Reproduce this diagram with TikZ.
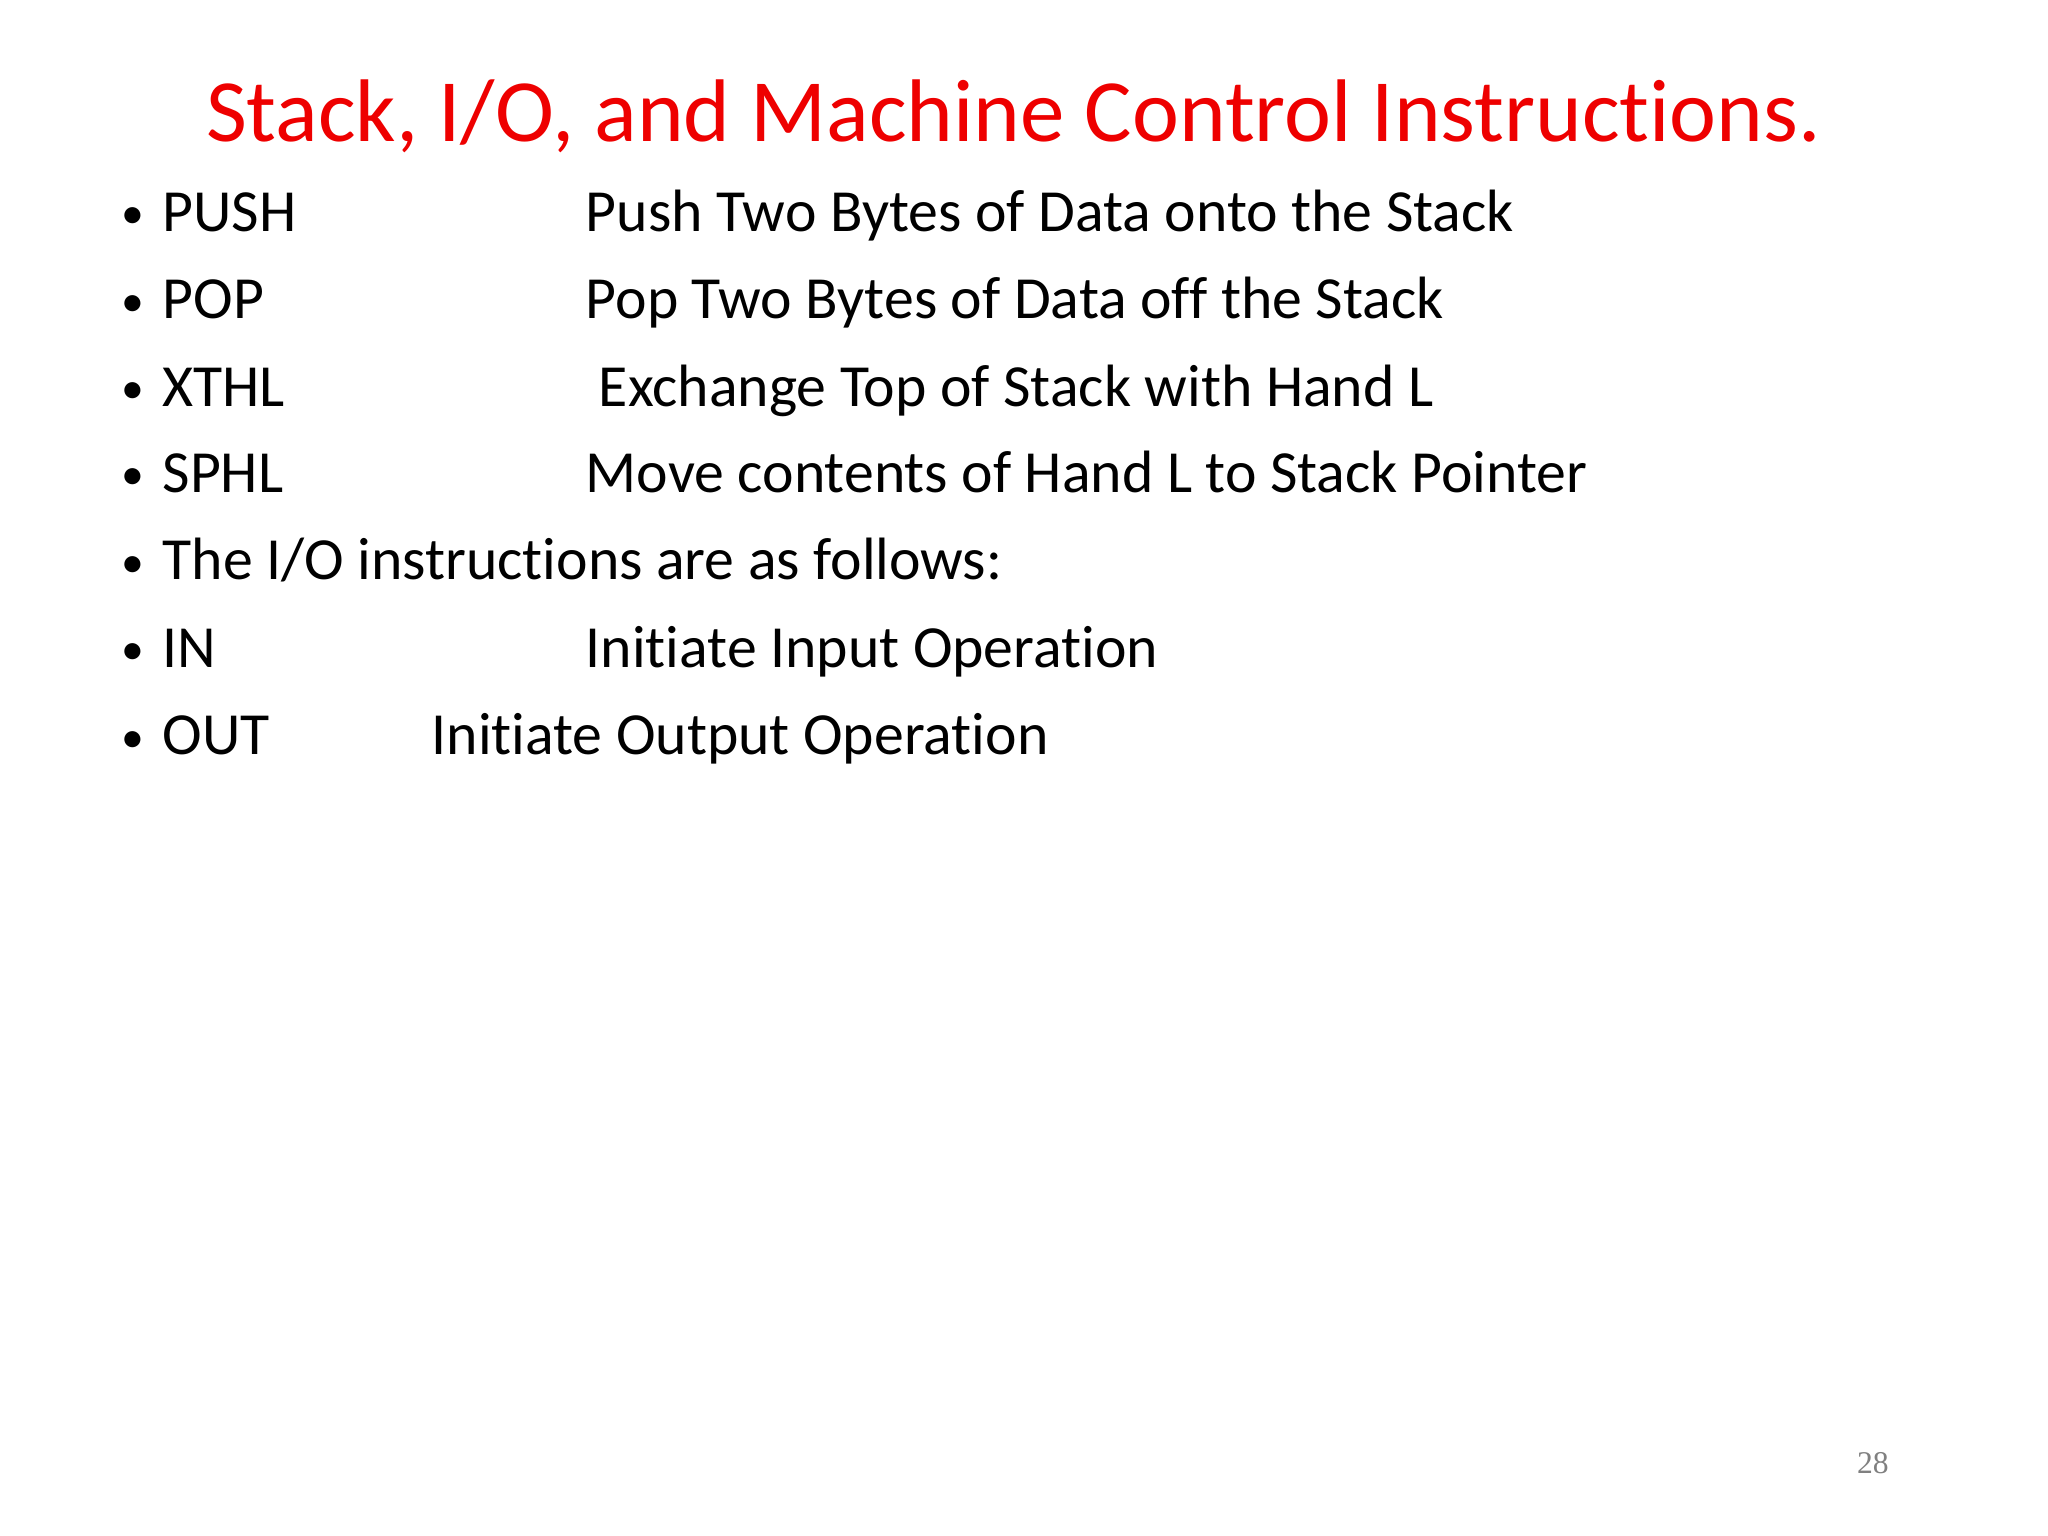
\documentclass[tikz,border=0pt]{standalone}
\usepackage{fontspec}
\setmainfont[Ligatures={NoCommon,NoRare}]{Carlito}
\newfontfamily\numfont{Liberation Serif}
\begin{document}
\begin{tikzpicture}[x=0.013061cm,y=-0.013061cm,
  item/.style={anchor=base west,inner sep=0pt,font=\fontsize{17}{20}\selectfont},
  bul/.style={anchor=base,inner sep=0pt,font=\fontsize{13}{20}\selectfont}]
\useasboundingbox (0,0) rectangle (1568,1176);
\fill[white] (0,0) rectangle (1568,1176);
\node[anchor=base,inner sep=0pt,text={rgb,255:red,238;green,0;blue,0},font=\fontsize{25.3}{30}\selectfont] (title) at (776,108) {Stack, I/O, and Machine Control Instructions.};
\foreach \n/\y/\a/\dx/\b in {1/177/PUSH/448/Push Two Bytes of Data onto the Stack,
  2/244/POP/448/Pop Two Bytes of Data off the Stack,
  3/311/XTHL/458/Exchange Top of Stack with Hand L,
  4/377/SPHL/448/Move contents of Hand L to Stack Pointer,
  6/511/IN/448/Initiate Input Operation,
  7/578/OUT/330/Initiate Output Operation}{
  \node[bul] (b\n) at (102,\y-2) {•};
  \node[item] (k\n) at (124,\y) {\a};
  \node[item] (d\n) at (\dx,\y) {\b};
}
\node[bul] (b5) at (102,442) {•};
\node[item] (k5) at (124,444) {The I/O instructions are as follows:};
\node[anchor=base,inner sep=0pt,text=gray,font=\numfont\fontsize{9}{10}\selectfont] (pg) at (1434,1128) {28};
\end{tikzpicture}
\end{document}
